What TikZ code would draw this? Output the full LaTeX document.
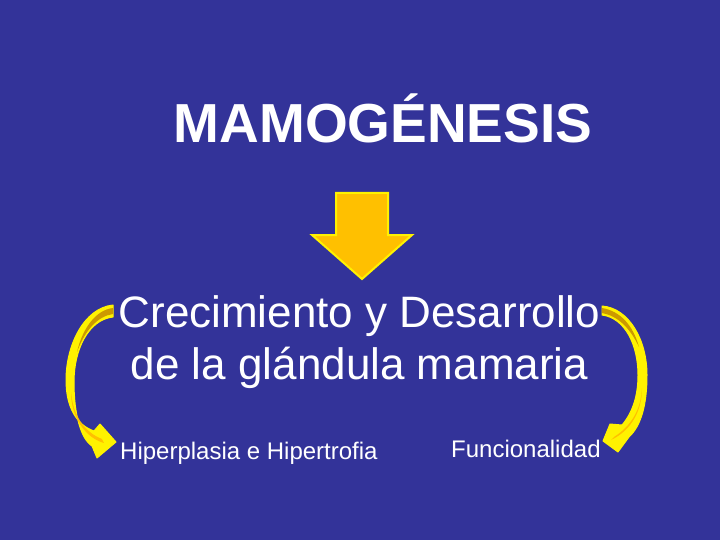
\documentclass[tikz,border=0pt]{standalone}
\usepackage{fontspec}
\setmainfont{Liberation Sans}
\usepackage{tikz}
\usepackage{xcolor}

\definecolor{slideblue}{RGB}{51,51,153}
\definecolor{arrowgold}{RGB}{255,192,0}
\definecolor{arrowdark}{RGB}{204,153,0}

\begin{document}
\begin{tikzpicture}[x=1pt,y=-1pt]
  \fill[slideblue] (0,0) rectangle (720,540);

  \node[anchor=base, white, font=\bfseries\fontsize{55}{66}\selectfont] (title) at (383,143) {MAMOGÉNESIS};
  \node[anchor=base, white, align=center, font=\fontsize{44}{52}\selectfont] (growth) at (359.5,379) {Crecimiento y Desarrollo\\de la glándula mamaria};
  \node[anchor=base west, white, inner sep=0pt, font=\fontsize{24}{28}\selectfont] (hyper) at (120,459) {Hiperplasia e Hipertrofia};
  \node[anchor=base west, white, inner sep=0pt, font=\fontsize{24}{28}\selectfont] (func) at (451,457) {Funcionalidad};

  % block arrow under the title
  \coordinate (S1) at (336,193);
  \coordinate (S2) at (388,193);
  \coordinate (T) at (362,279);
  \filldraw[fill=arrowgold, draw=yellow, line width=2pt] (S1) -- (S2) -- (388,235) -- (412,235) -- (T) -- (312,235) -- (336,235) -- cycle;

  % curved arrow to the left
  \filldraw[fill=yellow, draw=yellow, line width=1pt, line join=round]
    (113,305) .. controls (84,308) and (66,345) .. (66,380)
    .. controls (66,408) and (77,425) .. (94,431)
    -- (100,424) -- (116,442) -- (97,458) -- (92,446)
    .. controls (81,439) and (74,415) .. (74,382)
    .. controls (74,350) and (88,320) .. (113,317) -- cycle;
  \fill[arrowdark] (113,308) .. controls (95,310) and (82,330) .. (77,352)
    .. controls (85,330) and (98,316) .. (113,314) -- cycle;
  \fill[arrowgold] (71,392) .. controls (73,415) and (84,432) .. (102,439)
    -- (104,443) .. controls (86,438) and (71,418) .. (71,392);

  % curved arrow to the right
  \filldraw[fill=yellow, draw=yellow, line width=1pt, line join=round]
    (602,306) .. controls (629,308) and (647,340) .. (647,375)
    .. controls (647,405) and (641,426) .. (629,437)
    -- (618,452) -- (603,441) -- (610,424) -- (622,425)
    .. controls (633,412) and (638,395) .. (638,375)
    .. controls (638,345) and (625,318) .. (602,315) -- cycle;
  \fill[arrowdark] (602,308) .. controls (620,311) and (633,325) .. (639,347)
    .. controls (630,328) and (618,316) .. (602,313) -- cycle;
  \fill[arrowgold] (642,388) .. controls (641,410) and (631,426) .. (614,437)
    -- (611,440) .. controls (632,430) and (642,410) .. (642,388);
\end{tikzpicture}
\end{document}
